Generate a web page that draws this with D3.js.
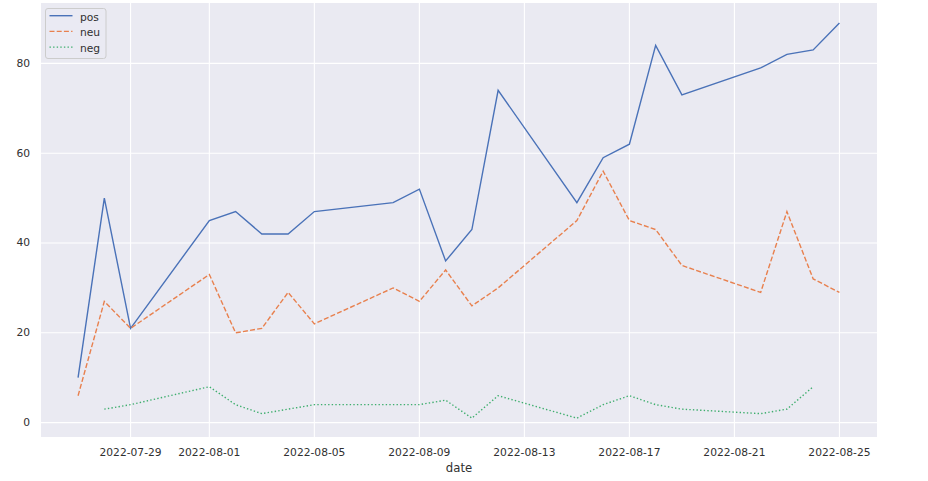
<!DOCTYPE html>
<html>
<head>
<meta charset="utf-8">
<script src="https://cdn.jsdelivr.net/npm/d3@7"></script>
<style>
  body { margin: 0; background: #fff; }
  text { font-family: "DejaVu Sans", sans-serif; fill: #303030; }
</style>
</head>
<body>
<svg id="chart" width="928" height="481"></svg>
<script>
const posDates = ["2022-07-27","2022-07-28","2022-07-29","2022-08-01","2022-08-02","2022-08-03","2022-08-04","2022-08-05","2022-08-08","2022-08-09","2022-08-10","2022-08-11","2022-08-12","2022-08-15","2022-08-16","2022-08-17","2022-08-18","2022-08-19","2022-08-22","2022-08-23","2022-08-24","2022-08-25"];
const negDates = posDates.slice(1, -1);
const posValues = [10,50,21,45,47,42,42,47,49,52,36,43,74,49,59,62,84,73,79,82,83,89];
const neuValues = [6,27,21,33,20,21,29,22,30,27,34,26,30,45,56,45,43,35,29,47,32,29];
const negValues = [3,4,8,4,2,3,4,4,4,5,1,6,1,4,6,4,3,2,3,8];
const xTickLabels = ["2022-07-29","2022-08-01","2022-08-05","2022-08-09","2022-08-13","2022-08-17","2022-08-21","2022-08-25"];
const yTicks = [0,20,40,60,80];

const parse = d3.utcParse("%Y-%m-%d");
const fmt = d3.utcFormat("%Y-%m-%d");

const plotLeft = 41, plotRight = 877, plotTop = 3, plotBottom = 437;
const svg = d3.select("#chart");

const xStart = parse(posDates[0]), xEnd = parse(posDates[posDates.length - 1]);
const xPad = (xEnd - xStart) * 0.05;
const x = d3.scaleUtc()
    .domain([new Date(+xStart - xPad), new Date(+xEnd + xPad)])
    .range([40, 877.5]);
const y = d3.scaleLinear()
    .domain([-3.2, 93.45])
    .range([plotBottom, plotTop]);

svg.append("rect")
    .attr("x", plotLeft).attr("y", plotTop)
    .attr("width", plotRight - plotLeft).attr("height", plotBottom - plotTop)
    .attr("fill", "#eaeaf2");

// gridlines are just long ticks, seaborn darkgrid style
const xAxis = d3.axisBottom(x)
    .offset(0)
    .tickValues(xTickLabels.map(parse))
    .tickFormat(fmt)
    .tickSize(-(plotBottom - plotTop))
    .tickPadding(11);
const yAxis = d3.axisLeft(y)
    .offset(0)
    .tickValues(yTicks)
    .tickSize(-(plotRight - plotLeft))
    .tickPadding(11);

const gx = svg.append("g").attr("transform", `translate(0,${plotBottom})`).call(xAxis);
const gy = svg.append("g").attr("transform", `translate(${plotLeft},0)`).call(yAxis);
[gx, gy].forEach(g => {
    g.select(".domain").remove();
    g.selectAll(".tick line").attr("stroke", "#fff").attr("stroke-width", 1.1);
    g.selectAll(".tick text").attr("font-size", 10.7).attr("font-family", '"DejaVu Sans"').attr("fill", "#303030");
});

svg.append("text")
    .attr("x", (plotLeft + plotRight) / 2).attr("y", 472)
    .attr("text-anchor", "middle")
    .attr("font-size", 11.7)
    .text("date");

const series = [
    { name: "pos", dates: posDates, values: posValues, color: "#4a72b8", dash: null },
    { name: "neu", dates: posDates, values: neuValues, color: "#e8804e", dash: "5,2.2" },
    { name: "neg", dates: negDates, values: negValues, color: "#3fae6e", dash: "1.4,2.2" },
];

const line = d3.line().x(d => x(d[0])).y(d => y(d[1]));

svg.selectAll("path.series")
    .data(series)
    .join("path")
    .attr("class", "series")
    .attr("fill", "none")
    .attr("stroke", d => d.color)
    .attr("stroke-width", 1.4)
    .attr("stroke-dasharray", d => d.dash)
    .attr("d", d => line(d.dates.map((t, i) => [parse(t), d.values[i]])));

// legend
const legend = svg.append("g");
legend.append("rect")
    .attr("x", 45.5).attr("y", 8.5)
    .attr("width", 60.5).attr("height", 50)
    .attr("rx", 2.5)
    .attr("fill", "#eaeaf2").attr("fill-opacity", 0.8)
    .attr("stroke", "#cccccc").attr("stroke-width", 1);
series.forEach((s, i) => {
    const ly = 15.7 + i * 15.7;
    legend.append("line")
        .attr("x1", 49.5).attr("x2", 72.5)
        .attr("y1", ly).attr("y2", ly)
        .attr("stroke", s.color).attr("stroke-width", 1.4)
        .attr("stroke-dasharray", s.dash);
    legend.append("text")
        .attr("x", 80).attr("y", ly + 5)
        .attr("font-size", 10.7)
        .text(s.name);
});
</script>
</body>
</html>
